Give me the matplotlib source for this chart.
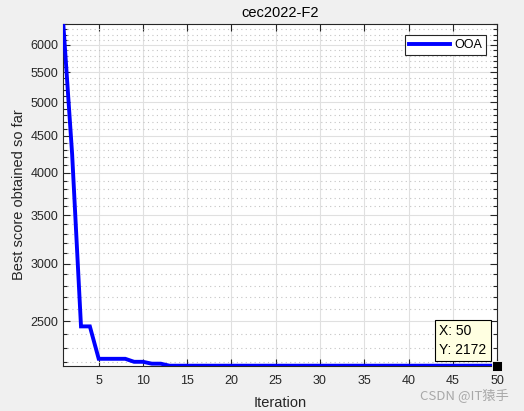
import numpy as np
import matplotlib
matplotlib.use("Agg")
import matplotlib.pyplot as plt
from matplotlib.ticker import FixedLocator, NullFormatter

# convergence curve
iterations = list(range(1, 51))
best_score = [6410, 4240, 2460, 2460, 2220, 2220, 2220, 2220, 2199, 2199,
              2186, 2186] + [2172] * 38
x_ticks = [5, 10, 15, 20, 25, 30, 35, 40, 45, 50]
y_ticks = [2500, 3000, 3500, 4000, 4500, 5000, 5500, 6000]
y_minor = [v for v in range(2200, 6500, 100) if v % 500 != 0]

plt.rcParams['font.family'] = ['Liberation Sans', 'DejaVu Sans']

fig = plt.figure(figsize=(5.24, 4.11), dpi=100, facecolor='#f0f0f0')
ax = fig.add_axes([0.1208, 0.1102, 0.8277, 0.8314])

ax.plot(iterations, best_score, color='#0000ff', linewidth=2.8, label='OOA',
        solid_joinstyle='miter', zorder=3)
ax.set_yscale('log')
ax.set_xlim(1, 50)
ax.set_ylim(min(best_score), max(best_score))

ax.xaxis.set_major_locator(FixedLocator(x_ticks))
ax.set_xticklabels([str(t) for t in x_ticks])
ax.yaxis.set_major_locator(FixedLocator(y_ticks))
ax.yaxis.set_minor_locator(FixedLocator(y_minor))
ax.set_yticklabels([str(t) for t in y_ticks])
ax.yaxis.set_minor_formatter(NullFormatter())
ax.xaxis.set_minor_locator(FixedLocator([]))

ax.tick_params(which='both', direction='in', top=True, right=True,
               colors='#262626', labelsize=9, width=0.8)
ax.tick_params(which='major', length=5)
ax.tick_params(which='minor', length=3)
ax.tick_params(axis='x', pad=7)
for s in ax.spines.values():
    s.set_color('#262626')
    s.set_linewidth(0.8)

ax.grid(True, which='major', color='#e0e0e0', linewidth=0.8)
ax.grid(True, which='minor', axis='y', color='#c4c4c4', linestyle=(0, (1, 3)),
        linewidth=0.8)
ax.set_axisbelow(True)

ax.set_title('cec2022-F2', fontsize=10.5, color='#000000', pad=5)
ax.set_xlabel('Iteration', fontsize=10.5, color='#262626', labelpad=6)
ax.set_ylabel('Best score obtained so far', fontsize=10.5, color='#262626',
              labelpad=3)

leg = ax.legend(loc='upper right', fontsize=9, handlelength=3.3,
                fancybox=False, framealpha=1, edgecolor='#262626',
                borderpad=0.3, borderaxespad=0.9, handletextpad=0.3)
leg.get_frame().set_linewidth(0.8)

# data tip on the last point
ax.plot(iterations[-1], best_score[-1], marker='s', color='black',
        markersize=7, markeredgecolor='white', markeredgewidth=0.6,
        clip_on=False, zorder=5)
ax.annotate('X: %d\nY: %d' % (iterations[-1], best_score[-1]),
            xy=(iterations[-1], best_score[-1]), xytext=(-7.5, 6.5),
            textcoords='offset points', ha='right', va='bottom',
            multialignment='left', fontsize=10, linespacing=1.45,
            color='black',
            bbox=dict(boxstyle='square,pad=0.3', fc='#ffffe1', ec='black',
                      lw=0.8), zorder=6)

fig.text(0.971, 0.036, 'CSDN @IT猿手', ha='right', va='center', fontsize=9.5,
         color='#a8a8a8', family=['Noto Sans CJK SC', 'DejaVu Sans'])

fig.savefig('out.png', dpi=100, facecolor=fig.get_facecolor())
